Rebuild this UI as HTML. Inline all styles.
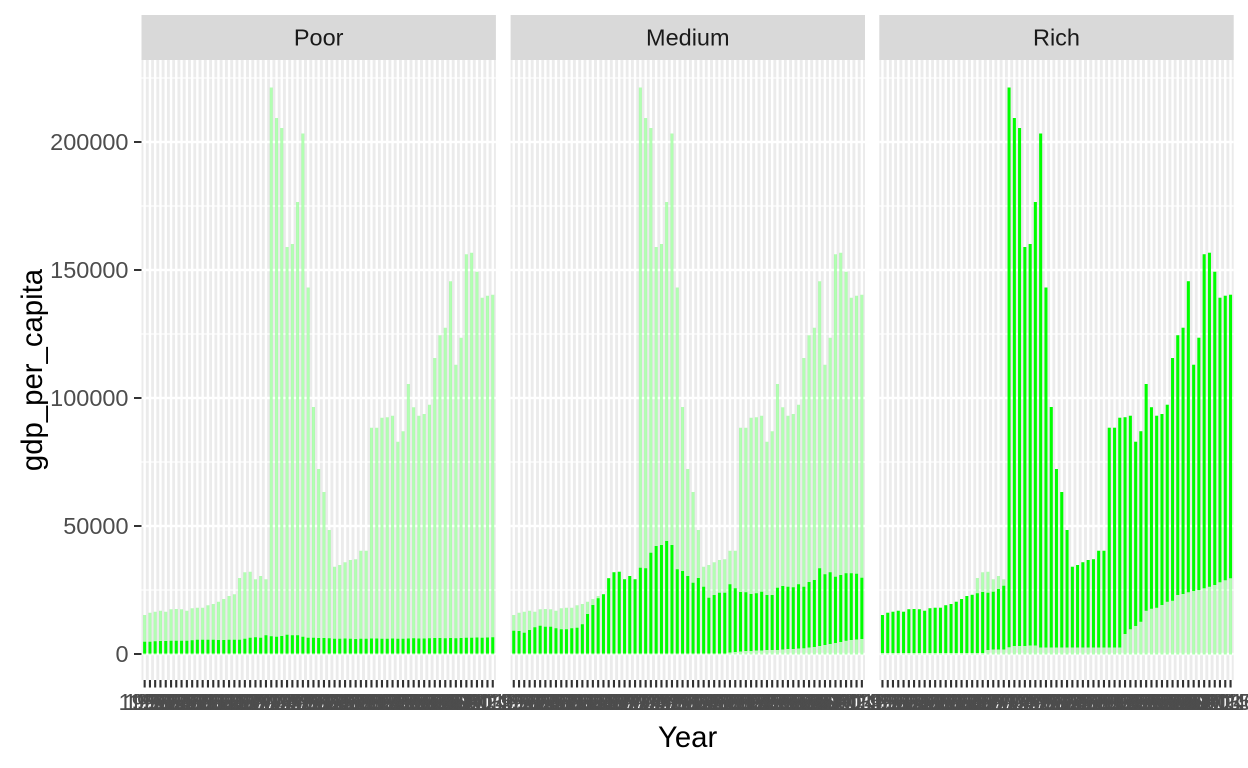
<!DOCTYPE html>
<html><head><meta charset="utf-8"><style>
html,body{margin:0;padding:0;background:#fff;}
svg{display:block;font-family:"Liberation Sans",sans-serif;}
</style></head><body>
<svg width="1248" height="768" viewBox="0 0 1248 768" xmlns="http://www.w3.org/2000/svg">
<defs>
<path id="vg" fill="none" stroke="#FFFFFF" stroke-width="2.4" d="M0 60V680M5.3 60V680M10.5 60V680M15.8 60V680M21.1 60V680M26.4 60V680M31.6 60V680M36.9 60V680M42.2 60V680M47.5 60V680M52.7 60V680M58 60V680M63.3 60V680M68.6 60V680M73.8 60V680M79.1 60V680M84.4 60V680M89.7 60V680M94.9 60V680M100.2 60V680M105.5 60V680M110.8 60V680M116 60V680M121.3 60V680M126.6 60V680M131.9 60V680M137.1 60V680M142.4 60V680M147.7 60V680M152.9 60V680M158.2 60V680M163.5 60V680M168.8 60V680M174 60V680M179.3 60V680M184.6 60V680M189.9 60V680M195.1 60V680M200.4 60V680M205.7 60V680M211 60V680M216.2 60V680M221.5 60V680M226.8 60V680M232.1 60V680M237.3 60V680M242.6 60V680M247.9 60V680M253.2 60V680M258.4 60V680M263.7 60V680M269 60V680M274.2 60V680M279.5 60V680M284.8 60V680M290.1 60V680M295.3 60V680M300.6 60V680M305.9 60V680M311.2 60V680M316.4 60V680M321.7 60V680M327 60V680M332.3 60V680M337.5 60V680M342.8 60V680M348.1 60V680"/>
<path id="tk" fill="none" stroke="#333333" stroke-width="2.1" d="M0 680V687.5M5.3 680V687.5M10.5 680V687.5M15.8 680V687.5M21.1 680V687.5M26.4 680V687.5M31.6 680V687.5M36.9 680V687.5M42.2 680V687.5M47.5 680V687.5M52.7 680V687.5M58 680V687.5M63.3 680V687.5M68.6 680V687.5M73.8 680V687.5M79.1 680V687.5M84.4 680V687.5M89.7 680V687.5M94.9 680V687.5M100.2 680V687.5M105.5 680V687.5M110.8 680V687.5M116 680V687.5M121.3 680V687.5M126.6 680V687.5M131.9 680V687.5M137.1 680V687.5M142.4 680V687.5M147.7 680V687.5M152.9 680V687.5M158.2 680V687.5M163.5 680V687.5M168.8 680V687.5M174 680V687.5M179.3 680V687.5M184.6 680V687.5M189.9 680V687.5M195.1 680V687.5M200.4 680V687.5M205.7 680V687.5M211 680V687.5M216.2 680V687.5M221.5 680V687.5M226.8 680V687.5M232.1 680V687.5M237.3 680V687.5M242.6 680V687.5M247.9 680V687.5M253.2 680V687.5M258.4 680V687.5M263.7 680V687.5M269 680V687.5M274.2 680V687.5M279.5 680V687.5M284.8 680V687.5M290.1 680V687.5M295.3 680V687.5M300.6 680V687.5M305.9 680V687.5M311.2 680V687.5M316.4 680V687.5M321.7 680V687.5M327 680V687.5M332.3 680V687.5M337.5 680V687.5M342.8 680V687.5M348.1 680V687.5"/>
<path id="lg" fill="none" stroke="#00FF00" stroke-opacity="0.3" stroke-width="3" d="M0 654.5V615M5.3 654.5V612.7M10.5 654.5V611.7M15.8 654.5V610.7M21.1 654.5V611.7M26.4 654.5V609.3M31.6 654.5V609M36.9 654.5V609.3M42.2 654.5V610.7M47.5 654.5V608.3M52.7 654.5V607.7M58 654.5V607.7M63.3 654.5V605.3M68.6 654.5V604M73.8 654.5V601.7M79.1 654.5V599M84.4 654.5V596M89.7 654.5V594.3M94.9 654.5V578M100.2 654.5V572.3M105.5 654.5V571.7M110.8 654.5V579.3M116 654.5V576M121.3 654.5V579.3M126.6 654.5V87.5M131.9 654.5V118M137.1 654.5V128M142.4 654.5V247M147.7 654.5V244M152.9 654.5V202M158.2 654.5V133.5M163.5 654.5V287.5M168.8 654.5V407M174 654.5V469M179.3 654.5V492M184.6 654.5V530M189.9 654.5V566.7M195.1 654.5V565M200.4 654.5V562.3M205.7 654.5V560M211 654.5V559.3M216.2 654.5V550.7M221.5 654.5V550.7M226.8 654.5V427.7M232.1 654.5V427.7M237.3 654.5V417.7M242.6 654.5V417.3M247.9 654.5V415.7M253.2 654.5V441.7M258.4 654.5V431.3M263.7 654.5V384M269 654.5V407.3M274.2 654.5V415.7M279.5 654.5V414M284.8 654.5V404.7M290.1 654.5V358M295.3 654.5V335.3M300.6 654.5V327.7M305.9 654.5V281.3M311.2 654.5V364.7M316.4 654.5V337.7M321.7 654.5V254.3M327 654.5V252.7M332.3 654.5V271.7M337.5 654.5V297.7M342.8 654.5V295.7M348.1 654.5V294.7"/>
<g id="hg">
<rect x="0" y="77.4" width="354.4" height="1.2" fill="#FFFFFF"/>
<rect x="0" y="205.4" width="354.4" height="1.2" fill="#FFFFFF"/>
<rect x="0" y="333.4" width="354.4" height="1.2" fill="#FFFFFF"/>
<rect x="0" y="461.4" width="354.4" height="1.2" fill="#FFFFFF"/>
<rect x="0" y="589.4" width="354.4" height="1.2" fill="#FFFFFF"/>
<rect x="0" y="140.8" width="354.4" height="2.4" fill="#FFFFFF"/>
<rect x="0" y="268.8" width="354.4" height="2.4" fill="#FFFFFF"/>
<rect x="0" y="396.8" width="354.4" height="2.4" fill="#FFFFFF"/>
<rect x="0" y="524.8" width="354.4" height="2.4" fill="#FFFFFF"/>
<rect x="0" y="652.8" width="354.4" height="2.4" fill="#FFFFFF"/>
</g>
</defs>
<rect x="0" y="0" width="1248" height="768" fill="#FFFFFF"/>

<!-- Panel backgrounds -->
<rect x="141.5" y="60" width="354.4" height="620" fill="#EBEBEB"/>
<rect x="510.6" y="60" width="354.4" height="620" fill="#EBEBEB"/>
<rect x="879.3" y="60" width="354.4" height="620" fill="#EBEBEB"/>
<use href="#hg" transform="translate(141.5,0)"/>
<use href="#hg" transform="translate(510.6,0)"/>
<use href="#hg" transform="translate(879.3,0)"/>

<!-- Panel 1: Poor -->
<g transform="translate(144.66,0)">
<use href="#vg"/>
<use href="#lg"/>
<path fill="none" stroke="#00FF00" stroke-width="3" d="M0 653.5V641.7M5.3 653.5V641.7M10.5 653.5V641.3M15.8 653.5V641M21.1 653.5V641M26.4 653.5V640.7M31.6 653.5V640.7M36.9 653.5V640.7M42.2 653.5V640.7M47.5 653.5V640.3M52.7 653.5V639.7M58 653.5V639.7M63.3 653.5V639.7M68.6 653.5V639.7M73.8 653.5V640M79.1 653.5V640M84.4 653.5V639.7M89.7 653.5V639.7M94.9 653.5V639.7M100.2 653.5V638.7M105.5 653.5V637.7M110.8 653.5V637.3M116 653.5V637.7M121.3 653.5V635.3M126.6 653.5V636.3M131.9 653.5V636.7M137.1 653.5V636M142.4 653.5V634.7M147.7 653.5V635.3M152.9 653.5V635.3M158.2 653.5V636.7M163.5 653.5V637.7M168.8 653.5V637.7M174 653.5V638M179.3 653.5V638M184.6 653.5V638.3M189.9 653.5V638.7M195.1 653.5V638.7M200.4 653.5V638.5M205.7 653.5V638.7M211 653.5V639M216.2 653.5V638.7M221.5 653.5V638.7M226.8 653.5V638.5M232.1 653.5V638.5M237.3 653.5V638.7M242.6 653.5V638.7M247.9 653.5V638.5M253.2 653.5V638.7M258.4 653.5V638.7M263.7 653.5V638.5M269 653.5V638.3M274.2 653.5V638.5M279.5 653.5V638.5M284.8 653.5V638.3M290.1 653.5V638M295.3 653.5V638M300.6 653.5V638.3M305.9 653.5V638M311.2 653.5V638.3M316.4 653.5V638M321.7 653.5V637.7M327 653.5V637.7M332.3 653.5V637.5M337.5 653.5V637.7M342.8 653.5V637.5M348.1 653.5V637.3"/>
<use href="#tk"/>
</g>

<!-- Panel 2: Medium -->
<g transform="translate(513.76,0)">
<use href="#vg"/>
<use href="#lg"/>
<path fill="none" stroke="#00FF00" stroke-width="3" d="M0 653.5V630.7M5.3 653.5V631M10.5 653.5V632.7M15.8 653.5V630M21.1 653.5V627.3M26.4 653.5V625.7M31.6 653.5V626.7M36.9 653.5V626.7M42.2 653.5V628.3M47.5 653.5V629.3M52.7 653.5V629.3M58 653.5V628.3M63.3 653.5V627.7M68.6 653.5V624.3M73.8 653.5V614M79.1 653.5V605M84.4 653.5V598.3M89.7 653.5V594.3M94.9 653.5V578.3M100.2 653.5V572.3M105.5 653.5V571.7M110.8 653.5V579.3M116 653.5V576M121.3 653.5V579.3M126.6 653.5V567.7M131.9 653.5V568.3M137.1 653.5V552.7M142.4 653.5V546M147.7 653.5V545M152.9 653.5V541M158.2 653.5V545M163.5 653.5V569.3M168.8 653.5V571M174 653.5V576M179.3 653.5V582.7M184.6 653.5V578M189.9 653.5V586.7M195.1 653.5V597.7M200.4 653.5V595M205.7 653.5V592.7M211 653.5V592.7M216.2 652.5V584.3M221.5 652V588.3M226.8 651.5V592M232.1 651V592.3M237.3 651V594M242.6 650.5V593.3M247.9 650.5V591.7M253.2 650V595M258.4 650V595M263.7 650V587.7M269 649.5V586M274.2 649V586.7M279.5 649V587.3M284.8 648.5V584.3M290.1 648.3V586.7M295.3 647.5V582M300.6 647V580M305.9 646V568.3M311.2 645V574.3M316.4 644V572.3M321.7 643V576.7M327 642V575M332.3 640.7V573.3M337.5 640V573.3M342.8 639.5V573.7M348.1 639V577.7"/>
<use href="#tk"/>
</g>

<!-- Panel 3: Rich -->
<g transform="translate(882.46,0)">
<use href="#vg"/>
<use href="#lg"/>
<path fill="none" stroke="#00FF00" stroke-width="3" d="M0 653V615M5.3 653V612.7M10.5 653V611.7M15.8 653V610.7M21.1 653V611.7M26.4 653V609.3M31.6 653V609M36.9 653V609.3M42.2 653V610.7M47.5 653V608.3M52.7 653V607.7M58 653V607.7M63.3 653V605.3M68.6 653V604M73.8 653V601.7M79.1 653V599M84.4 653V596M89.7 653V595M94.9 653V593.3M100.2 653V592M105.5 650V592.7M110.8 649.5V591.7M116 649.5V589M121.3 649.5V585.7M126.6 647.3V87.5M131.9 646V118M137.1 646V128M142.4 646V247M147.7 645.5V244M152.9 645.5V202M158.2 647.5V133.5M163.5 647.5V287.5M168.8 647.5V407M174 647.5V469M179.3 647.5V492M184.6 647.5V530M189.9 647.5V566.7M195.1 647.5V565M200.4 647.5V562.3M205.7 647.5V560M211 647.5V559.3M216.2 647.5V550.7M221.5 647.5V550.7M226.8 647.5V427.7M232.1 647.5V427.7M237.3 647.5V417.7M242.6 634V417.3M247.9 629.3V415.7M253.2 626V441.7M258.4 621.7V431.3M263.7 610.7V384M269 608.7V407.3M274.2 607.7V415.7M279.5 605V414M284.8 601.7V404.7M290.1 600.7V358M295.3 595V335.3M300.6 594V327.7M305.9 592.3V281.3M311.2 591V364.7M316.4 590V337.7M321.7 588.3V254.3M327 586.7V252.7M332.3 585V271.7M337.5 582.3V297.7M342.8 580.3V295.7M348.1 578.3V294.7"/>
<use href="#tk"/>
</g>

<!-- Strips -->
<rect x="141.5" y="15" width="354.4" height="45" fill="#D9D9D9"/>
<rect x="510.6" y="15" width="354.4" height="45" fill="#D9D9D9"/>
<rect x="879.3" y="15" width="354.4" height="45" fill="#D9D9D9"/>
<g font-size="23.47" fill="#1A1A1A" text-anchor="middle">
<text x="318.7" y="45.5">Poor</text>
<text x="687.8" y="45.5">Medium</text>
<text x="1056.5" y="45.5">Rich</text>
</g>

<!-- Y axis -->
<path fill="none" stroke="#333333" stroke-width="2.1" d="M134 142H141.5M134 270H141.5M134 398H141.5M134 526H141.5M134 654H141.5"/>
<g font-size="23.47" fill="#4D4D4D" text-anchor="end">
<text x="128.5" y="150">200000</text>
<text x="128.5" y="278">150000</text>
<text x="128.5" y="406">100000</text>
<text x="128.5" y="534">50000</text>
<text x="128.5" y="662">0</text>
</g>
<text transform="translate(42,370) rotate(-90)" font-size="29.33" fill="#000000" text-anchor="middle">gdp_per_capita</text>

<!-- X tick labels -->
<g font-size="23.47" fill="#4D4D4D" text-anchor="middle">
<text transform="translate(144.66,0)" y="710"><tspan x="0">1950</tspan><tspan x="5.3">1951</tspan><tspan x="10.5">1952</tspan><tspan x="15.8">1953</tspan><tspan x="21.1">1954</tspan><tspan x="26.4">1955</tspan><tspan x="31.6">1956</tspan><tspan x="36.9">1957</tspan><tspan x="42.2">1958</tspan><tspan x="47.5">1959</tspan><tspan x="52.7">1960</tspan><tspan x="58">1961</tspan><tspan x="63.3">1962</tspan><tspan x="68.6">1963</tspan><tspan x="73.8">1964</tspan><tspan x="79.1">1965</tspan><tspan x="84.4">1966</tspan><tspan x="89.7">1967</tspan><tspan x="94.9">1968</tspan><tspan x="100.2">1969</tspan><tspan x="105.5">1970</tspan><tspan x="110.8">1971</tspan><tspan x="116">1972</tspan><tspan x="121.3">1973</tspan><tspan x="126.6">1974</tspan><tspan x="131.9">1975</tspan><tspan x="137.1">1976</tspan><tspan x="142.4">1977</tspan><tspan x="147.7">1978</tspan><tspan x="152.9">1979</tspan><tspan x="158.2">1980</tspan><tspan x="163.5">1981</tspan><tspan x="168.8">1982</tspan><tspan x="174">1983</tspan><tspan x="179.3">1984</tspan><tspan x="184.6">1985</tspan><tspan x="189.9">1986</tspan><tspan x="195.1">1987</tspan><tspan x="200.4">1988</tspan><tspan x="205.7">1989</tspan><tspan x="211">1990</tspan><tspan x="216.2">1991</tspan><tspan x="221.5">1992</tspan><tspan x="226.8">1993</tspan><tspan x="232.1">1994</tspan><tspan x="237.3">1995</tspan><tspan x="242.6">1996</tspan><tspan x="247.9">1997</tspan><tspan x="253.2">1998</tspan><tspan x="258.4">1999</tspan><tspan x="263.7">2000</tspan><tspan x="269">2001</tspan><tspan x="274.2">2002</tspan><tspan x="279.5">2003</tspan><tspan x="284.8">2004</tspan><tspan x="290.1">2005</tspan><tspan x="295.3">2006</tspan><tspan x="300.6">2007</tspan><tspan x="305.9">2008</tspan><tspan x="311.2">2009</tspan><tspan x="316.4">2010</tspan><tspan x="321.7">2011</tspan><tspan x="327">2012</tspan><tspan x="332.3">2013</tspan><tspan x="337.5">2014</tspan><tspan x="342.8">2015</tspan><tspan x="348.1">2016</tspan></text>
<text transform="translate(513.76,0)" y="710"><tspan x="0">1950</tspan><tspan x="5.3">1951</tspan><tspan x="10.5">1952</tspan><tspan x="15.8">1953</tspan><tspan x="21.1">1954</tspan><tspan x="26.4">1955</tspan><tspan x="31.6">1956</tspan><tspan x="36.9">1957</tspan><tspan x="42.2">1958</tspan><tspan x="47.5">1959</tspan><tspan x="52.7">1960</tspan><tspan x="58">1961</tspan><tspan x="63.3">1962</tspan><tspan x="68.6">1963</tspan><tspan x="73.8">1964</tspan><tspan x="79.1">1965</tspan><tspan x="84.4">1966</tspan><tspan x="89.7">1967</tspan><tspan x="94.9">1968</tspan><tspan x="100.2">1969</tspan><tspan x="105.5">1970</tspan><tspan x="110.8">1971</tspan><tspan x="116">1972</tspan><tspan x="121.3">1973</tspan><tspan x="126.6">1974</tspan><tspan x="131.9">1975</tspan><tspan x="137.1">1976</tspan><tspan x="142.4">1977</tspan><tspan x="147.7">1978</tspan><tspan x="152.9">1979</tspan><tspan x="158.2">1980</tspan><tspan x="163.5">1981</tspan><tspan x="168.8">1982</tspan><tspan x="174">1983</tspan><tspan x="179.3">1984</tspan><tspan x="184.6">1985</tspan><tspan x="189.9">1986</tspan><tspan x="195.1">1987</tspan><tspan x="200.4">1988</tspan><tspan x="205.7">1989</tspan><tspan x="211">1990</tspan><tspan x="216.2">1991</tspan><tspan x="221.5">1992</tspan><tspan x="226.8">1993</tspan><tspan x="232.1">1994</tspan><tspan x="237.3">1995</tspan><tspan x="242.6">1996</tspan><tspan x="247.9">1997</tspan><tspan x="253.2">1998</tspan><tspan x="258.4">1999</tspan><tspan x="263.7">2000</tspan><tspan x="269">2001</tspan><tspan x="274.2">2002</tspan><tspan x="279.5">2003</tspan><tspan x="284.8">2004</tspan><tspan x="290.1">2005</tspan><tspan x="295.3">2006</tspan><tspan x="300.6">2007</tspan><tspan x="305.9">2008</tspan><tspan x="311.2">2009</tspan><tspan x="316.4">2010</tspan><tspan x="321.7">2011</tspan><tspan x="327">2012</tspan><tspan x="332.3">2013</tspan><tspan x="337.5">2014</tspan><tspan x="342.8">2015</tspan><tspan x="348.1">2016</tspan></text>
<text transform="translate(882.46,0)" y="710"><tspan x="0">1950</tspan><tspan x="5.3">1951</tspan><tspan x="10.5">1952</tspan><tspan x="15.8">1953</tspan><tspan x="21.1">1954</tspan><tspan x="26.4">1955</tspan><tspan x="31.6">1956</tspan><tspan x="36.9">1957</tspan><tspan x="42.2">1958</tspan><tspan x="47.5">1959</tspan><tspan x="52.7">1960</tspan><tspan x="58">1961</tspan><tspan x="63.3">1962</tspan><tspan x="68.6">1963</tspan><tspan x="73.8">1964</tspan><tspan x="79.1">1965</tspan><tspan x="84.4">1966</tspan><tspan x="89.7">1967</tspan><tspan x="94.9">1968</tspan><tspan x="100.2">1969</tspan><tspan x="105.5">1970</tspan><tspan x="110.8">1971</tspan><tspan x="116">1972</tspan><tspan x="121.3">1973</tspan><tspan x="126.6">1974</tspan><tspan x="131.9">1975</tspan><tspan x="137.1">1976</tspan><tspan x="142.4">1977</tspan><tspan x="147.7">1978</tspan><tspan x="152.9">1979</tspan><tspan x="158.2">1980</tspan><tspan x="163.5">1981</tspan><tspan x="168.8">1982</tspan><tspan x="174">1983</tspan><tspan x="179.3">1984</tspan><tspan x="184.6">1985</tspan><tspan x="189.9">1986</tspan><tspan x="195.1">1987</tspan><tspan x="200.4">1988</tspan><tspan x="205.7">1989</tspan><tspan x="211">1990</tspan><tspan x="216.2">1991</tspan><tspan x="221.5">1992</tspan><tspan x="226.8">1993</tspan><tspan x="232.1">1994</tspan><tspan x="237.3">1995</tspan><tspan x="242.6">1996</tspan><tspan x="247.9">1997</tspan><tspan x="253.2">1998</tspan><tspan x="258.4">1999</tspan><tspan x="263.7">2000</tspan><tspan x="269">2001</tspan><tspan x="274.2">2002</tspan><tspan x="279.5">2003</tspan><tspan x="284.8">2004</tspan><tspan x="290.1">2005</tspan><tspan x="295.3">2006</tspan><tspan x="300.6">2007</tspan><tspan x="305.9">2008</tspan><tspan x="311.2">2009</tspan><tspan x="316.4">2010</tspan><tspan x="321.7">2011</tspan><tspan x="327">2012</tspan><tspan x="332.3">2013</tspan><tspan x="337.5">2014</tspan><tspan x="342.8">2015</tspan><tspan x="348.1">2016</tspan></text>
</g>

<!-- X title -->
<text x="687.6" y="747" font-size="29.33" fill="#000000" text-anchor="middle">Year</text>
</svg>
</body></html>
